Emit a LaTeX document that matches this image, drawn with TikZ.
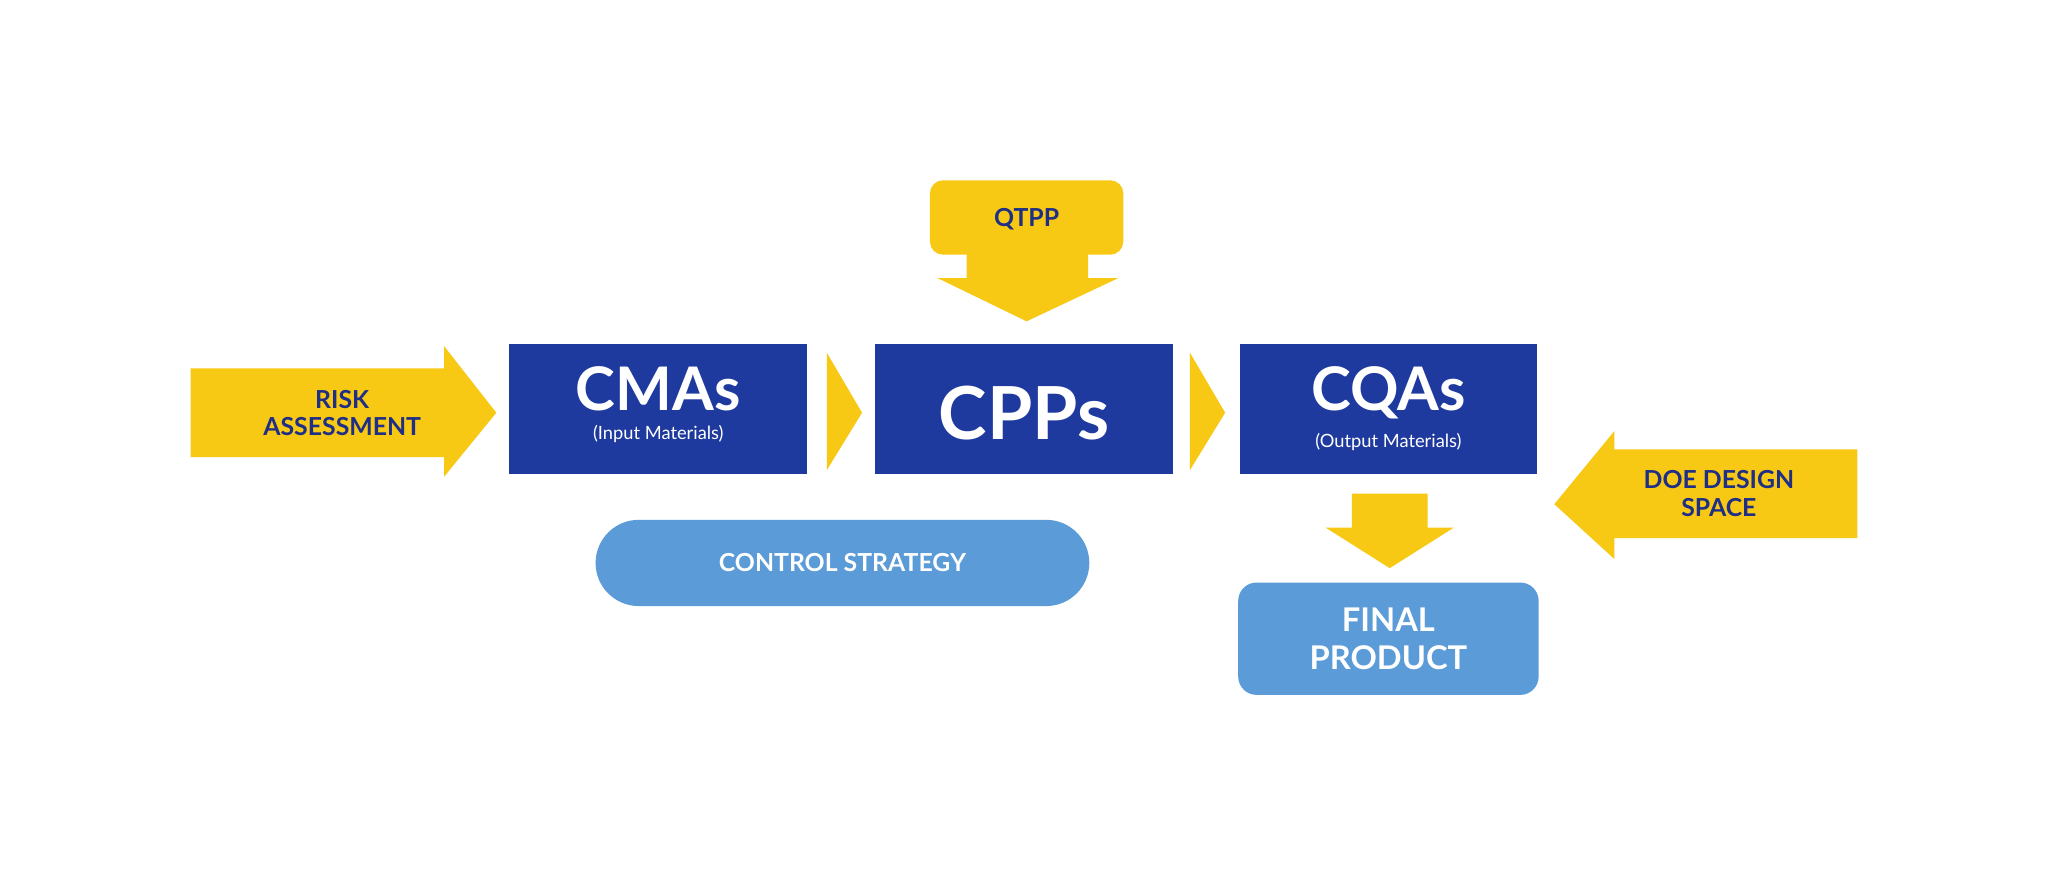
\documentclass[tikz,border=0pt]{standalone}
\usepackage{fontspec}
\setmainfont{Lato}
\usetikzlibrary{positioning}
\definecolor{kyel}{HTML}{F8C914}
\definecolor{knavy}{HTML}{1F3A9F}
\definecolor{klight}{HTML}{5B9BD7}
\definecolor{ktext}{HTML}{1E2F85}
\tikzset{
  box/.style={fill=knavy,text=white,minimum width=228pt,minimum height=100pt,inner sep=0pt,align=center},
  pill/.style={fill=klight,text=white,inner sep=0pt,align=center,font=\bfseries\fontsize{19}{22}\selectfont},
  ylab/.style={text=ktext,align=center,font=\bfseries\fontsize{19}{21}\selectfont},
  big/.style={font=\bfseries\fontsize{46}{50}\selectfont},
  sub/.style={font=\fontsize{14}{16}\selectfont}
}
\begin{document}
\begin{tikzpicture}[x=1pt,y=-1pt]
\useasboundingbox[fill=white](0,0) rectangle (1568,670);
% main boxes
\node[box](cma) at (504,313){};
\node[box](cpp) at (784,313){};
\node[box](cqa) at (1063,313){};
\node[big,text=white,anchor=base](cmat) at (504,314){CMAs};
\node[sub,text=white,below=4pt of cmat](cmas){(Input Materials)};
\node[big,text=white,font=\bfseries\fontsize{56}{60}\selectfont](cppt) at (784,316){CPPs};
\node[big,text=white,anchor=base](cqat) at (1063,314){CQAs};
\node[sub,text=white,below=4pt of cqat](cqas){(Output Materials)};
% chevrons
\fill[kyel](633,270)--(660,316)--(633,360)--cycle;
\fill[kyel](911,270)--(938,316)--(911,360)--cycle;
% risk arrow
\fill[kyel](146,282)--(340,282)--(340,265)--(380,316)--(340,365)--(340,350)--(146,350)--cycle;
\node[ylab](risk) at (262,316){RISK\\ASSESSMENT};
% qtpp
\fill[kyel,rounded corners=10pt](712,138) rectangle (860,195);
\fill[kyel](740,190)--(833,190)--(833,213)--(856,213)--(786,246)--(718,213)--(740,213)--cycle;
\node[ylab](qtpp) at (786,168){QTPP};
% doe arrow
\fill[kyel](1422,344)--(1236,344)--(1236,330)--(1190,386)--(1236,428)--(1236,412)--(1422,412)--cycle;
\node[ylab](doe) at (1316,378){DOE DESIGN\\SPACE};
% down arrow
\fill[kyel](1035,378)--(1093,378)--(1093,404)--(1113,404)--(1064,435)--(1015,404)--(1035,404)--cycle;
% rounded boxes
\node[pill,rounded corners=33pt,minimum width=378pt,minimum height=66pt](ctrl) at (645,431){CONTROL STRATEGY};
\node[pill,rounded corners=14pt,minimum width=230pt,minimum height=86pt,font=\bfseries\fontsize{25}{29}\selectfont](fin) at (1063,489){FINAL\\PRODUCT};
\end{tikzpicture}
\end{document}
